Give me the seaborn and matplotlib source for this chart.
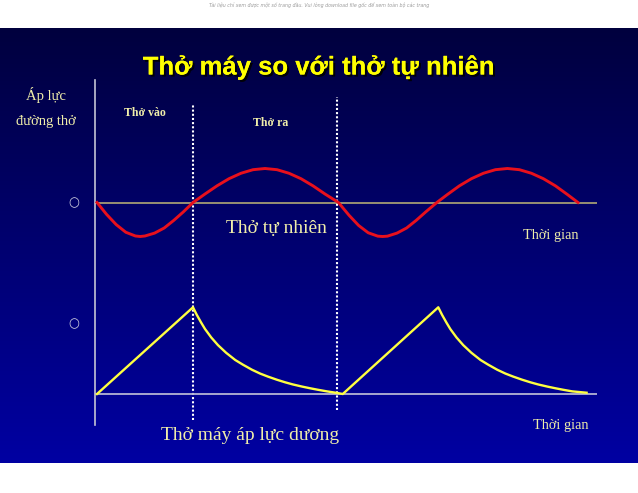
import numpy as np
import matplotlib
matplotlib.use("Agg")
import matplotlib.pyplot as plt
import matplotlib.patheffects as pe
import seaborn as sns

# Natural breathing: airway pressure (cmH2O) vs time (s)
natural_t = [0, 0.2, 0.4, 0.6, 0.8, 0.9, 1.0, 1.2, 1.4, 1.6, 1.8, 2.0,
             2.25, 2.5, 2.75, 3.0, 3.25, 3.5, 3.75, 4.0, 4.25, 4.5, 4.75, 5.03,
             5.25, 5.45, 5.65, 5.85, 5.95, 6.05, 6.25, 6.45, 6.65, 6.85, 7.08,
             7.3, 7.55, 7.8, 8.05, 8.3, 8.55, 8.8, 9.05, 9.3, 9.55, 9.8, 10.02]
natural_p = [0, -0.7, -1.3, -1.75, -1.97, -2.0, -1.97, -1.8, -1.5, -1.05, -0.55, 0,
             0.5, 0.98, 1.4, 1.72, 1.93, 2.0, 1.93, 1.72, 1.4, 0.98, 0.5, 0,
             -0.75, -1.35, -1.78, -1.98, -2.0, -1.98, -1.8, -1.5, -1.05, -0.55, 0,
             0.47, 0.98, 1.4, 1.72, 1.93, 2.0, 1.93, 1.72, 1.4, 0.98, 0.47, 0]

# Positive pressure ventilation: airway pressure (cmH2O) vs time (s)
vent_t = [0, 2.0, 2.08, 2.17, 2.25, 2.38, 2.52, 2.69, 2.88, 3.04, 3.23, 3.4, 3.56,
          3.75, 3.92, 4.08, 4.27, 4.44, 4.6, 4.79, 5.0, 5.12,
          7.11, 7.19, 7.28, 7.36, 7.49, 7.63, 7.8, 7.99, 8.15, 8.34, 8.51, 8.67,
          8.86, 9.03, 9.19, 9.38, 9.55, 9.71, 9.9, 10.2]
vent_p = [0, 20.4, 18.6, 16.8, 15.3, 13.3, 11.5, 9.7, 8.0, 6.9, 5.7, 4.8, 4.1,
          3.35, 2.75, 2.25, 1.75, 1.35, 1.0, 0.62, 0.25, 0,
          20.4, 18.6, 16.8, 15.3, 13.3, 11.5, 9.7, 8.0, 6.9, 5.7, 4.8, 4.1,
          3.35, 2.75, 2.25, 1.75, 1.35, 1.0, 0.62, 0.3]

phase_bounds = [2.0, 5.0]

W, H = 638, 493
fig = plt.figure(figsize=(6.38, 4.93), dpi=100)
fig.patch.set_facecolor("white")

# background slide (pixel coords)
bg = fig.add_axes([0, 0, 1, 1])
bg.set_xlim(0, W)
bg.set_ylim(H, 0)
bg.axis("off")
grad = np.linspace(0, 1, 256).reshape(-1, 1)
top_c = np.array([0, 0, 62]) / 255
bot_c = np.array([0, 0, 162]) / 255
img = top_c + grad[..., None] * (bot_c - top_c)
bg.imshow(img, extent=(0, W, 463, 28), aspect="auto", zorder=0)

serif = ["Liberation Serif", "DejaVu Serif"]
pale = "#f0eeaa"

bg.text(319, 5, "Tài liệu chỉ xem được một số trang đầu. Vui lòng download file gốc để xem toàn bộ các trang",
        ha="center", va="center", fontsize=3.4, color="#9a9a9a", style="italic")

bg.text(319, 67, "Thở máy so với thở tự nhiên", ha="center", va="center",
        fontsize=18.5, fontweight="bold", color="#ffff00",
        family=["Liberation Sans", "DejaVu Sans"],
        path_effects=[pe.withSimplePatchShadow(offset=(1.5, -1.5), shadow_rgbFace="black", alpha=0.9),
                      pe.Normal()])

bg.text(46, 95, "Áp lực", ha="center", va="center", fontsize=10.5, color=pale, family=serif)
bg.text(46, 121, "đường thở", ha="center", va="center", fontsize=10.5, color=pale, family=serif)
bg.text(145, 113, "Thở vào", ha="center", va="center", fontsize=8.5, fontweight="bold", color=pale, family=serif)
bg.text(271, 123, "Thở ra", ha="center", va="center", fontsize=8.5, fontweight="bold", color=pale, family=serif)
bg.text(276, 229, "Thở tự nhiên", ha="center", va="center", fontsize=14, color=pale, family=serif)
bg.text(551, 235, "Thời gian", ha="center", va="center", fontsize=10.3, color=pale, family=serif)
bg.text(561, 425, "Thời gian", ha="center", va="center", fontsize=10.3, color=pale, family=serif)
bg.text(250, 436, "Thở máy áp lực dương", ha="center", va="center", fontsize=14, color=pale, family=serif)
bg.text(74, 203, "○", ha="center", va="center", fontsize=9, color="#d0d0e0", family="DejaVu Sans")
bg.text(74, 324, "○", ha="center", va="center", fontsize=9, color="#d0d0e0", family="DejaVu Sans")

# chart axes: x from 95 to 597 px, y from 80 to 425 px
rect = [95 / W, (H - 425) / H, (597 - 95) / W, 345 / H]
xlim = ((95 - 97) / 48, (597 - 97) / 48)

ax_top = fig.add_axes(rect)
ax_bot = fig.add_axes(rect)
for ax in (ax_top, ax_bot):
    ax.set_facecolor("none")
    ax.set_xlim(*xlim)
    ax.set_xticks([])
    ax.set_yticks([])
    for s in ax.spines.values():
        s.set_visible(False)

ax_top.set_ylim((202.5 - 425) / 17, (202.5 - 80) / 17)
ax_bot.set_ylim((394 - 425) / 4.25, (394 - 80) / 4.25)

ax_top.spines["left"].set_visible(True)
ax_top.spines["left"].set_color("#c4c4d4")
ax_top.spines["left"].set_linewidth(1.2)

ax_top.axhline(0, color="#a39c74", lw=1.3, zorder=1)
ax_bot.axhline(0, color="#b4b4d4", lw=1.3, zorder=1)

sns.lineplot(x=natural_t, y=natural_p, ax=ax_top, color="#e8101c", lw=2.1,
             sort=False, estimator=None, zorder=3)
sns.lineplot(x=vent_t, y=vent_p, ax=ax_bot, color="#ffff40", lw=1.7,
             sort=False, estimator=None, zorder=3)

spans = [(0.0145, 0.9275), (0.0435, 0.9507)]
for b, (lo, hi) in zip(phase_bounds, spans):
    ax_top.axvline(b, ymin=lo, ymax=hi, color="white", lw=1.5,
                   ls=(0, (1, 1)), zorder=2)

fig.savefig("out.png", dpi=100, facecolor="white")
